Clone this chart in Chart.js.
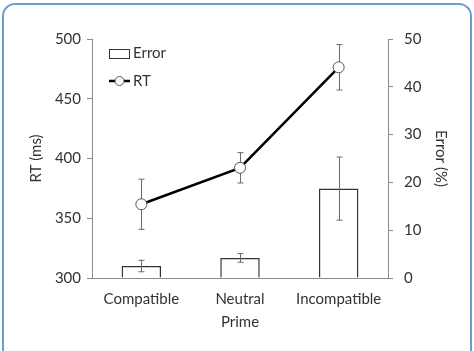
<!DOCTYPE html>
<html>
<head>
<meta charset="utf-8">
<script src="https://cdn.jsdelivr.net/npm/chart.js@4"></script>
<style>
  html, body { margin: 0; padding: 0; background: #fff; }
  #wrap { position: relative; width: 474px; height: 351px; overflow: hidden; }
  #frame { position: absolute; left: 2px; top: 3px; width: 466px; height: 400px;
           border: 2px solid #6f9bd3; border-radius: 13px; }
  canvas { position: absolute; left: 0; top: 0; }
</style>
</head>
<body>
<div id="wrap">
  <div id="frame"></div>
  <canvas id="chart" width="474" height="351"></canvas>
</div>
<script>
const categories = ['Compatible', 'Neutral', 'Incompatible'];
const rtValues = [361.7, 392.2, 476.3];
const rtErrors = [21, 12.7, 19];
const errorValues = [2.5, 4.2, 18.7];
const errorErrors = [1.2, 0.9, 6.6];

const FONT = 'Lato';
const textColor = '#333333';
const axisColor = '#8a8a8a';

// error bars, drawn just before the RT line so its circles sit on top
const errorBars = {
  id: 'errorBars',
  beforeDatasetDraw(chart, args) {
    if (args.index !== 0) return;
    const { ctx, scales } = chart;
    ctx.save();
    ctx.strokeStyle = '#6a6a6a';
    ctx.lineWidth = 1;
    const draw = (vals, errs, yScale) => {
      vals.forEach((v, i) => {
        const x = Math.round(scales.x.getPixelForValue(i)) + 0.5;
        const y1 = yScale.getPixelForValue(v + errs[i]);
        const y2 = yScale.getPixelForValue(v - errs[i]);
        ctx.beginPath();
        ctx.moveTo(x, y1); ctx.lineTo(x, y2);
        ctx.moveTo(x - 3, y1); ctx.lineTo(x + 3, y1);
        ctx.moveTo(x - 3, y2); ctx.lineTo(x + 3, y2);
        ctx.stroke();
      });
    };
    draw(errorValues, errorErrors, scales.y2);
    draw(rtValues, rtErrors, scales.y);
    ctx.restore();
  }
};

const legendBox = {
  id: 'legendBox',
  afterDraw(chart) {
    const { ctx, chartArea } = chart;
    const x = chartArea.left + 17;
    const y = chartArea.top + 10;
    ctx.save();
    ctx.font = '15px ' + FONT;
    ctx.fillStyle = textColor;
    ctx.textBaseline = 'middle';
    // Error
    ctx.strokeStyle = '#333';
    ctx.lineWidth = 1;
    ctx.strokeRect(x + 0.5, y + 0.5, 20, 9);
    ctx.fillText(chart.data.datasets[1].label, x + 24, y + 4);
    // RT
    const ly = y + 32;
    ctx.strokeStyle = '#000';
    ctx.lineWidth = 2.5;
    ctx.beginPath(); ctx.moveTo(x, ly); ctx.lineTo(x + 21, ly); ctx.stroke();
    ctx.fillStyle = '#fff';
    ctx.strokeStyle = '#555';
    ctx.lineWidth = 1;
    ctx.beginPath(); ctx.arc(x + 10.5, ly, 4.5, 0, Math.PI * 2); ctx.fill(); ctx.stroke();
    ctx.fillStyle = textColor;
    ctx.fillText(chart.data.datasets[0].label, x + 24, ly);
    ctx.restore();
  }
};

const tickFont = { family: FONT, size: 15 };

new Chart(document.getElementById('chart'), {
  data: {
    labels: categories,
    datasets: [
      {
        type: 'line',
        label: 'RT',
        data: rtValues,
        yAxisID: 'y',
        borderColor: '#000',
        borderWidth: 2.5,
        pointRadius: 5.5,
        pointBackgroundColor: '#fff',
        pointBorderColor: '#555',
        pointBorderWidth: 1,
        tension: 0
      },
      {
        type: 'bar',
        label: 'Error',
        data: errorValues,
        yAxisID: 'y2',
        backgroundColor: '#fff',
        borderColor: '#333',
        borderWidth: 1.5,
        barPercentage: 0.4,
        categoryPercentage: 1
      }
    ]
  },
  options: {
    responsive: false,
    animation: false,
    layout: { padding: { top: 39, left: 0, right: 0, bottom: 0 } },
    plugins: { legend: { display: false }, tooltip: { enabled: false } },
    scales: {
      x: {
        grid: { display: false, drawTicks: false },
        border: { display: true, color: axisColor },
        ticks: { color: textColor, font: tickFont, padding: 12 },
        title: { display: true, text: 'Prime', color: textColor, font: tickFont, padding: { top: 0, bottom: 20 } },
        afterFit(s) { s.height = 73; }
      },
      y: {
        position: 'left',
        min: 300, max: 500,
        ticks: { stepSize: 50, color: textColor, font: tickFont, padding: 6 },
        grid: { drawOnChartArea: false, tickLength: 5, color: axisColor },
        border: { color: axisColor },
        title: { display: true, text: 'RT (ms)', color: textColor, font: tickFont, padding: { top: 27, bottom: 0 } },
        afterFit(s) { s.width = 92; }
      },
      y2: {
        position: 'right',
        min: 0, max: 50,
        ticks: { stepSize: 10, color: textColor, font: tickFont, padding: 11 },
        grid: { drawOnChartArea: false, tickLength: 5, color: axisColor },
        border: { color: axisColor },
        title: { display: true, text: 'Error (%)', color: textColor, font: tickFont, padding: { top: 24, bottom: 0 } },
        afterFit(s) { s.width = 86; }
      }
    }
  },
  plugins: [errorBars, legendBox]
});
</script>
</body>
</html>
